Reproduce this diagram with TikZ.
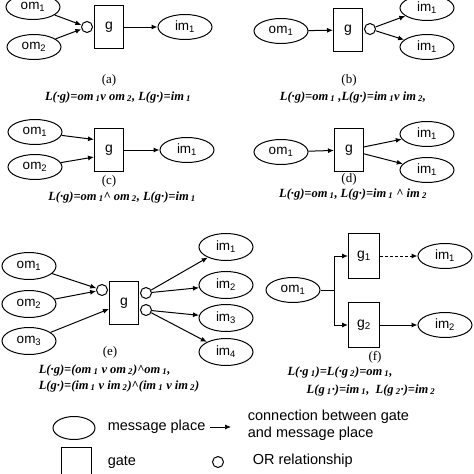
\documentclass[tikz,border=0pt]{standalone}
\usepackage{fontspec}
\setmainfont{Liberation Serif}
\setsansfont{Liberation Sans}
\usepackage{tikz}
\usetikzlibrary{arrows.meta,shapes.geometric}
\newcommand{\sbs}[1]{\,\textsubscript{#1}}

\tikzset{
  msg/.style={draw, ellipse, minimum width=54, minimum height=25, inner sep=0,
    font=\sffamily\fontsize{13.5}{15}\selectfont},
  gate/.style={draw, rectangle, minimum width=29, minimum height=43, inner sep=0,
    font=\sffamily\fontsize{14}{16}\selectfont},
  orc/.style={draw, circle, minimum size=11, inner sep=0},
  tag/.style={font=\fontsize{13}{15}\selectfont},
  formula/.style={font=\fontsize{12.5}{15}\selectfont\bfseries\itshape},
  legend/.style={font=\sffamily\fontsize{14.5}{16.5}\selectfont, align=left, anchor=west}
}

\begin{document}
\begin{tikzpicture}[x=1pt, y=-1pt, line width=1pt, >={Latex[length=6pt,width=5pt]}]
    \useasboundingbox (0,0) rectangle (474,474);
    % (a)
    \node[msg] (om1a) at (33,7) {om\textsubscript{1}};
    \node[msg] (om2a) at (34,47) {om\textsubscript{2}};
    \node[orc] (ora) at (87,27) {};
    \node[gate] (ga) at (109,27) {g};
    \node[msg] (im1a) at (185,27) {im\textsubscript{1}};
    \path [->] (om1a) edge (ora);
    \path [->] (om2a) edge (ora);
    \path [->] (ga) edge (im1a);
    \node[tag] (tga) at (109,80) {(a)};
    \node[formula] (fa) at (118,97) {L(·g)=om\sbs{1}v om\sbs{2}, L(g·)=im\sbs{1}};
    % (b)
    \node[msg] (om1b) at (281,31) {om\textsubscript{1}};
    \node[gate] (gb) at (348,30) {g};
    \node[orc] (orb) at (370,29) {};
    \node[msg] (im1b) at (427,8) {im\textsubscript{1}};
    \node[msg] (im2b) at (427,47) {im\textsubscript{1}};
    \path [->] (om1b) edge (gb);
    \path [->] (orb) edge (im1b);
    \path [->] (orb) edge (im2b);
    \node[tag] (tgb) at (349,80) {(b)};
    \node[formula] (fb) at (353,97) {L(·g)=om\sbs{1} ,L(g·)=im\sbs{1}v im\sbs{2},};
    % (c)
    \node[msg] (om1c) at (35,132) {om\textsubscript{1}};
    \node[msg] (om2c) at (35,167) {om\textsubscript{2}};
    \node[gate] (gc) at (109,150) {g};
    \node[msg] (im1c) at (187,150) {im\textsubscript{1}};
    \path [->] (om1c) edge (gc.145);
    \path [->] (om2c) edge (gc.205);
    \path [->] (gc) edge (im1c);
    \node[tag] (tgc) at (109,181) {(c)};
    \node[formula] (fc) at (122,197) {L(·g)=om\sbs{1}\textasciicircum{} om\sbs{2}, L(g·)=im\sbs{1}};
    % (d)
    \node[msg] (om1d) at (281,152) {om\textsubscript{1}};
    \node[gate] (gd) at (349,150) {g};
    \node[msg] (im1d) at (427,134) {im\textsubscript{1}};
    \node[msg] (im2d) at (427,170) {im\textsubscript{1}};
    \path [->] (om1d) edge (gd);
    \path [->] (gd) edge (im1d);
    \path [->] (gd) edge (im2d);
    \node[tag] (tgd) at (349,179) {(d)};
    \node[formula] (fd) at (353,194) {L(·g)=om\sbs{1}, L(g·)=im\sbs{1} \textasciicircum{} im\sbs{2}};
    % (e)
    \node[msg, minimum height=27] (om1e) at (29,266) {om\textsubscript{1}};
    \node[msg, minimum height=27] (om2e) at (29,304) {om\textsubscript{2}};
    \node[msg, minimum height=27] (om3e) at (29,341) {om\textsubscript{3}};
    \node[orc] (ore1) at (102,290) {};
    \node[gate] (ge) at (124,303) {g};
    \node[orc] (ore2) at (146,293) {};
    \node[orc] (ore3) at (146,310) {};
    \node[msg, minimum height=27] (im1e) at (226,247) {im\textsubscript{1}};
    \node[msg, minimum height=27] (im2e) at (226,285) {im\textsubscript{2}};
    \node[msg, minimum height=27] (im3e) at (226,318) {im\textsubscript{3}};
    \node[msg, minimum height=27] (im4e) at (226,352) {im\textsubscript{4}};
    \path [->] (om1e) edge (ore1);
    \path [->] (om2e) edge (ore1);
    \path [->] (om3e) edge (ge);
    \path [->] (ore2) edge (im1e);
    \path [->] (ore2) edge (im2e);
    \path [->] (ore3) edge (im3e);
    \path [->] (ore3) edge (im4e);
    \node[tag] (tge) at (110,352) {(e)};
    \node[formula, anchor=west] (fe1) at (35,370) {L(·g)=(om\sbs{1} v om\sbs{2})\textasciicircum{}om\sbs{1},};
    \node[formula, anchor=west] (fe2) at (35,386) {L(g·)=(im\sbs{1} v im\sbs{2})\textasciicircum{}(im\sbs{1} v im\sbs{2})};
    % (f)
    \node[msg] (om1f) at (293,290) {om\textsubscript{1}};
    \coordinate (fj) at (334,290);
    \node[gate, minimum width=31, minimum height=45] (g1f) at (364,256) {g\textsubscript{1}};
    \node[gate, minimum width=31, minimum height=45] (g2f) at (364,325) {g\textsubscript{2}};
    \node[msg] (im1f) at (445,256) {im\textsubscript{1}};
    \node[msg] (im2f) at (445,325) {im\textsubscript{2}};
    \draw (om1f) -- (fj);
    \draw [->] (fj) |- (g1f);
    \draw [->] (fj) |- (g2f);
    \path [->, densely dashed] (g1f) edge (im1f);
    \path [->] (g2f) edge (im2f);
    \node[tag] (tgf) at (375,357) {(f)};
    \node[formula] (ff1) at (340,372) {L(·g\sbs{1})=L(·g\sbs{2})=om\sbs{1},};
    \node[formula] (ff2) at (371,390) {L(g\sbs{1}·)=im\sbs{1},\ \ L(g\sbs{2}·)=im\sbs{2}};
    % legend
    \node[msg, minimum width=42, minimum height=23] (lgmsg) at (74,428) {};
    \node[legend] (lgmsgt) at (104,427) {message place};
    \coordinate (lgs) at (210,427);
    \coordinate (lge) at (231,427);
    \draw [->, line width=0.7pt] (lgs) -- (lge);
    \node[legend] (lgcont) at (244,425) {connection between gate\\and message place};
    \node[gate, minimum width=30, minimum height=32] (lggate) at (76,463) {};
    \node[legend] (lggatet) at (104,462) {gate};
    \node[orc] (lgor) at (218,462) {};
    \node[legend] (lgort) at (249,461) {OR relationship};
\end{tikzpicture}
\end{document}
